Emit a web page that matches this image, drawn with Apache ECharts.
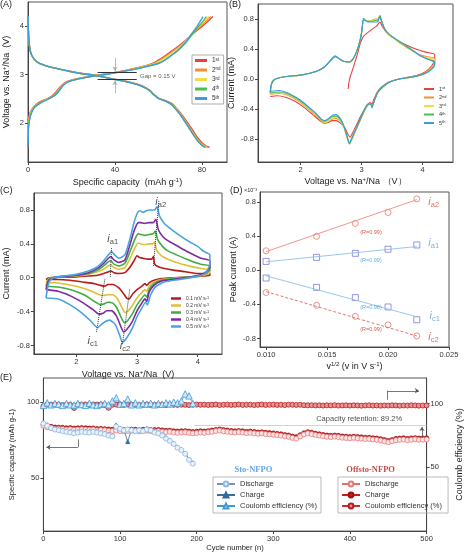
<!DOCTYPE html>
<html><head><meta charset="utf-8">
<script src="https://cdn.jsdelivr.net/npm/echarts@6/dist/echarts.min.js"></script>
<style>html,body{margin:0;padding:0;background:#fff}#c{width:474px;height:553px}</style>
</head><body><div id="c"></div>
<script>
const FONT = '"Liberation Sans", Arial, sans-serif'

// ---- (A) charge / discharge profiles, [capacity, voltage]
const chg1 = [[0,2.06],[1,2.22],[2.5,2.33],[5,2.43],[8,2.49],[11,2.56],[13,2.65],[15,2.76],[17,2.84],[20,2.89],[25,2.94],[30,2.98],[35,3.01],[40,3.05],[45,3.09],[50,3.14],[55,3.2],[58,3.25],[61,3.33],[64,3.42],[67,3.52],[70,3.62],[73,3.73],[76,3.85],[79,3.96],[82,4.07],[85,4.2]]
const chg2 = [[0,1.9],[0.5,2.12],[1.5,2.25],[3,2.35],[5.5,2.43],[8.5,2.49],[11.5,2.56],[13.5,2.66],[15.5,2.77],[17.5,2.84],[20,2.89],[25,2.94],[30,2.97],[35,3.01],[40,3.05],[45,3.09],[50,3.14],[55,3.19],[58,3.24],[61,3.31],[64,3.4],[67,3.5],[70,3.6],[73,3.72],[76,3.86],[79,3.99],[81.5,4.09],[84,4.2]]
const chg3 = [[0,1.7],[0.4,2.05],[1.3,2.22],[3,2.34],[5.5,2.42],[8.5,2.49],[11.8,2.56],[13.8,2.66],[15.8,2.77],[17.8,2.84],[20,2.88],[25,2.93],[30,2.97],[35,3.0],[40,3.04],[45,3.08],[50,3.13],[55,3.19],[59,3.24],[62,3.32],[65,3.41],[68,3.5],[71,3.62],[74,3.77],[77,3.92],[80,4.06],[83,4.2]]
const chg4 = [[0,1.6],[0.3,1.98],[1.2,2.18],[2.8,2.32],[5.8,2.42],[9,2.49],[12,2.56],[14,2.66],[16,2.77],[18,2.84],[20,2.88],[25,2.93],[30,2.97],[35,3.0],[40,3.04],[45,3.08],[50,3.12],[55,3.18],[60,3.24],[63,3.31],[66,3.4],[69,3.5],[72,3.63],[75,3.8],[78,3.97],[80,4.08],[82,4.2]]
const chg5 = [[0,1.5],[0.3,1.92],[1,2.12],[2.2,2.27],[3.8,2.36],[6.5,2.44],[9.5,2.5],[12.3,2.57],[14.3,2.67],[16.3,2.78],[18.3,2.85],[21,2.89],[25,2.93],[30,2.97],[35,3.0],[40,3.04],[45,3.08],[50,3.12],[55,3.17],[60,3.23],[63,3.3],[66,3.4],[69,3.51],[72,3.65],[75,3.83],[78,4.02],[80.5,4.2]]
const dis1 = [[0,4.2],[0.3,3.8],[0.8,3.55],[1.5,3.42],[3,3.31],[5,3.24],[8,3.19],[12,3.14],[16,3.1],[20,3.07],[25,3.03],[30,3.0],[35,2.95],[40,2.91],[45,2.87],[50,2.81],[53,2.76],[56,2.68],[58,2.59],[60,2.52],[63,2.47],[66,2.41],[68,2.32],[70,2.22],[72,2.1],[74,1.97],[76,1.84],[78,1.7],[80,1.6],[82,1.53],[83.5,1.5]]
const dis2 = [[0,4.2],[0.3,3.8],[0.8,3.55],[1.5,3.42],[3,3.31],[5,3.24],[8,3.19],[12,3.14],[16,3.1],[20,3.06],[25,3.02],[30,2.99],[35,2.95],[40,2.9],[45,2.86],[50,2.8],[53,2.75],[56,2.67],[58,2.58],[60,2.51],[63,2.46],[66,2.4],[68,2.31],[70,2.2],[72,2.07],[74,1.94],[76,1.8],[78,1.67],[80,1.57],[82.7,1.5]]
const dis3 = [[0,4.2],[0.3,3.8],[0.8,3.55],[1.5,3.42],[3,3.31],[5,3.24],[8,3.19],[12,3.14],[16,3.1],[20,3.06],[25,3.02],[30,2.99],[35,2.95],[40,2.9],[45,2.86],[50,2.8],[53,2.75],[56,2.67],[58,2.58],[60,2.51],[63,2.46],[66,2.39],[68,2.3],[70,2.19],[72,2.06],[74,1.92],[76,1.78],[78,1.65],[80,1.56],[82.2,1.5]]
const dis4 = [[0,4.2],[0.3,3.8],[0.8,3.55],[1.5,3.42],[3,3.31],[5,3.24],[8,3.19],[12,3.14],[16,3.1],[20,3.06],[25,3.02],[30,2.99],[35,2.95],[40,2.9],[45,2.86],[50,2.8],[53,2.75],[56,2.67],[58,2.58],[60,2.51],[63,2.46],[66,2.39],[68,2.29],[70,2.18],[72,2.05],[74,1.91],[76,1.77],[78,1.64],[80,1.55],[81.7,1.5]]
const dis5 = [[0,4.22],[0.3,3.8],[0.8,3.55],[1.5,3.42],[3,3.31],[5,3.24],[8,3.19],[12,3.14],[16,3.1],[20,3.06],[25,3.02],[30,2.99],[35,2.95],[40,2.9],[45,2.86],[50,2.8],[53,2.75],[56,2.67],[58,2.58],[60,2.51],[63,2.46],[66,2.38],[68,2.28],[70,2.17],[72,2.04],[74,1.9],[76,1.76],[78,1.63],[80,1.54],[81.2,1.5]]
const gapLines = [[[32,3.05],[50,3.05]], [[32,2.9],[50,2.9]]]
const gapArrows = [[[40,3.35],[40,3.08]], [[40,2.62],[40,2.87]]]

// ---- (B) first five CV cycles, [voltage, current mA]
const cv1 = [[2.78,-0.13],[2.79,-0.05],[2.82,0.05],[2.87,0.17],[2.93,0.33],[2.98,0.48],[3.03,0.57],[3.1,0.62],[3.18,0.67],[3.25,0.71],[3.3,0.76],[3.34,0.7],[3.4,0.63],[3.5,0.56],[3.6,0.51],[3.75,0.45],[3.9,0.4],[4.05,0.36],[4.2,0.33],[4.2,0.27],[4.15,0.18],[4.05,0.1],[3.9,0.05],[3.7,0.02],[3.55,-0.01],[3.42,-0.05],[3.32,-0.11],[3.25,-0.18],[3.2,-0.27],[3.17,-0.33],[3.14,-0.31],[3.08,-0.36],[3.0,-0.47],[2.92,-0.6],[2.86,-0.7],[2.81,-0.77],[2.77,-0.72],[2.72,-0.64],[2.65,-0.58],[2.58,-0.55],[2.52,-0.55],[2.46,-0.57],[2.4,-0.59],[2.33,-0.56],[2.2,-0.47],[2.05,-0.37],[1.9,-0.29],[1.75,-0.24],[1.62,-0.22],[1.5,-0.23]]
const cv2 = [[1.5,-0.2],[1.52,-0.08],[1.56,-0.01],[1.65,0.02],[1.8,0.04],[2.0,0.055],[2.15,0.08],[2.3,0.12],[2.4,0.17],[2.47,0.23],[2.53,0.28],[2.57,0.3],[2.62,0.28],[2.7,0.24],[2.8,0.23],[2.86,0.27],[2.92,0.37],[2.97,0.5],[3.0,0.62],[3.03,0.78],[3.06,0.78],[3.1,0.77],[3.16,0.78],[3.22,0.8],[3.27,0.8],[3.3,0.85],[3.33,0.77],[3.38,0.66],[3.45,0.59],[3.55,0.53],[3.65,0.47],[3.8,0.39],[3.95,0.33],[4.08,0.3],[4.2,0.28],[4.2,0.24],[4.15,0.16],[4.05,0.09],[3.9,0.04],[3.75,0.02],[3.6,0.0],[3.45,-0.04],[3.35,-0.1],[3.27,-0.17],[3.22,-0.26],[3.19,-0.33],[3.17,-0.36],[3.15,-0.33],[3.1,-0.35],[3.03,-0.45],[2.96,-0.58],[2.9,-0.69],[2.84,-0.8],[2.8,-0.86],[2.76,-0.77],[2.71,-0.64],[2.65,-0.55],[2.58,-0.52],[2.52,-0.53],[2.46,-0.56],[2.4,-0.58],[2.34,-0.56],[2.25,-0.48],[2.12,-0.39],[2.0,-0.31],[1.9,-0.26],[1.78,-0.21],[1.65,-0.19],[1.5,-0.2]]
const cv3 = [[1.5,-0.19],[1.52,-0.07],[1.56,-0.01],[1.65,0.02],[1.8,0.04],[2.0,0.055],[2.15,0.08],[2.3,0.12],[2.4,0.17],[2.47,0.23],[2.53,0.28],[2.57,0.3],[2.62,0.28],[2.7,0.24],[2.8,0.23],[2.86,0.27],[2.92,0.37],[2.97,0.5],[3.0,0.62],[3.03,0.78],[3.06,0.78],[3.1,0.77],[3.16,0.78],[3.22,0.79],[3.27,0.79],[3.3,0.85],[3.33,0.77],[3.38,0.66],[3.45,0.59],[3.55,0.53],[3.65,0.47],[3.8,0.39],[3.95,0.32],[4.08,0.28],[4.2,0.26],[4.2,0.22],[4.15,0.15],[4.05,0.08],[3.9,0.04],[3.75,0.02],[3.6,0.0],[3.45,-0.04],[3.35,-0.1],[3.27,-0.17],[3.22,-0.26],[3.19,-0.33],[3.17,-0.36],[3.15,-0.33],[3.1,-0.35],[3.03,-0.45],[2.96,-0.58],[2.9,-0.69],[2.84,-0.8],[2.8,-0.86],[2.76,-0.77],[2.71,-0.64],[2.65,-0.54],[2.58,-0.51],[2.52,-0.52],[2.46,-0.55],[2.4,-0.58],[2.34,-0.55],[2.25,-0.47],[2.12,-0.38],[2.0,-0.3],[1.9,-0.25],[1.78,-0.2],[1.65,-0.18],[1.5,-0.19]]
const cv4 = [[1.5,-0.18],[1.52,-0.07],[1.56,-0.01],[1.65,0.02],[1.8,0.04],[2.0,0.055],[2.15,0.08],[2.3,0.12],[2.4,0.17],[2.47,0.23],[2.53,0.28],[2.57,0.3],[2.62,0.28],[2.7,0.24],[2.8,0.23],[2.86,0.27],[2.92,0.37],[2.97,0.5],[3.0,0.62],[3.03,0.79],[3.06,0.78],[3.1,0.77],[3.16,0.77],[3.22,0.78],[3.27,0.79],[3.3,0.84],[3.33,0.77],[3.38,0.67],[3.45,0.6],[3.55,0.54],[3.65,0.48],[3.8,0.4],[3.95,0.32],[4.08,0.27],[4.2,0.24],[4.2,0.21],[4.15,0.14],[4.05,0.08],[3.9,0.04],[3.75,0.02],[3.6,0.0],[3.45,-0.04],[3.35,-0.1],[3.27,-0.17],[3.22,-0.26],[3.19,-0.33],[3.17,-0.37],[3.15,-0.33],[3.1,-0.34],[3.03,-0.44],[2.96,-0.57],[2.9,-0.68],[2.84,-0.79],[2.8,-0.86],[2.76,-0.76],[2.71,-0.63],[2.65,-0.53],[2.58,-0.49],[2.52,-0.5],[2.46,-0.53],[2.4,-0.56],[2.34,-0.54],[2.25,-0.46],[2.12,-0.37],[2.0,-0.29],[1.9,-0.24],[1.78,-0.19],[1.65,-0.17],[1.5,-0.18]]
const cv5 = [[1.5,-0.17],[1.52,-0.06],[1.56,-0.01],[1.65,0.02],[1.8,0.04],[2.0,0.055],[2.15,0.08],[2.3,0.12],[2.4,0.17],[2.47,0.23],[2.53,0.29],[2.57,0.31],[2.62,0.28],[2.7,0.24],[2.8,0.23],[2.86,0.27],[2.92,0.37],[2.97,0.5],[3.0,0.62],[3.03,0.81],[3.06,0.79],[3.1,0.76],[3.16,0.76],[3.22,0.76],[3.27,0.77],[3.3,0.84],[3.33,0.76],[3.38,0.66],[3.45,0.6],[3.55,0.54],[3.65,0.49],[3.8,0.41],[3.95,0.32],[4.08,0.27],[4.2,0.22],[4.2,0.19],[4.15,0.13],[4.05,0.08],[3.9,0.04],[3.75,0.02],[3.6,0.0],[3.45,-0.04],[3.35,-0.1],[3.27,-0.17],[3.22,-0.26],[3.19,-0.33],[3.17,-0.38],[3.15,-0.33],[3.1,-0.33],[3.03,-0.43],[2.96,-0.56],[2.9,-0.67],[2.84,-0.78],[2.8,-0.85],[2.76,-0.75],[2.71,-0.62],[2.65,-0.52],[2.58,-0.47],[2.52,-0.48],[2.46,-0.52],[2.4,-0.55],[2.34,-0.53],[2.25,-0.45],[2.12,-0.36],[2.0,-0.28],[1.9,-0.23],[1.78,-0.18],[1.65,-0.15],[1.5,-0.16]]

// ---- (C) CV at different scan rates
const rateLabels = ['0.1', '0.2', '0.3', '0.4', '0.5']
const sr1 = [[1.5,-0.02],[1.55,0.0],[1.7,0.005],[2.0,0.01],[2.2,0.02],[2.35,0.03],[2.45,0.05],[2.53,0.07],[2.57,0.08],[2.62,0.06],[2.7,0.05],[2.8,0.06],[2.88,0.12],[2.95,0.2],[3.0,0.26],[3.04,0.24],[3.1,0.23],[3.17,0.22],[3.24,0.22],[3.27,0.25],[3.29,0.16],[3.35,0.13],[3.45,0.11],[3.6,0.09],[3.8,0.07],[4.0,0.05],[4.2,0.05],[4.2,0.03],[4.1,0.02],[3.9,0.01],[3.6,0.0],[3.4,-0.01],[3.28,-0.03],[3.2,-0.06],[3.16,-0.09],[3.13,-0.07],[3.08,-0.1],[3.0,-0.14],[2.93,-0.19],[2.87,-0.25],[2.83,-0.24],[2.77,-0.18],[2.7,-0.12],[2.6,-0.08],[2.52,-0.08],[2.47,-0.1],[2.4,-0.09],[2.3,-0.07],[2.1,-0.05],[1.9,-0.03],[1.7,-0.02],[1.5,-0.02]]
const sr2 = [[1.5,-0.06],[1.55,-0.01],[1.7,0.01],[2.0,0.02],[2.2,0.04],[2.35,0.07],[2.45,0.1],[2.53,0.14],[2.57,0.15],[2.62,0.12],[2.7,0.1],[2.8,0.12],[2.88,0.22],[2.95,0.33],[3.02,0.41],[3.06,0.4],[3.12,0.39],[3.2,0.4],[3.26,0.4],[3.29,0.42],[3.32,0.33],[3.4,0.26],[3.5,0.22],[3.65,0.18],[3.85,0.14],[4.05,0.11],[4.2,0.09],[4.2,0.06],[4.1,0.03],[3.9,0.01],[3.6,-0.005],[3.4,-0.02],[3.28,-0.05],[3.2,-0.1],[3.16,-0.16],[3.13,-0.14],[3.07,-0.18],[3.0,-0.24],[2.92,-0.33],[2.84,-0.4],[2.8,-0.41],[2.75,-0.35],[2.68,-0.25],[2.6,-0.2],[2.52,-0.2],[2.45,-0.21],[2.38,-0.2],[2.25,-0.16],[2.05,-0.11],[1.85,-0.08],[1.65,-0.06],[1.5,-0.06]]
const sr3 = [[1.5,-0.1],[1.55,-0.02],[1.7,0.01],[2.0,0.03],[2.2,0.05],[2.35,0.09],[2.45,0.14],[2.53,0.19],[2.57,0.2],[2.62,0.16],[2.7,0.14],[2.8,0.17],[2.88,0.3],[2.95,0.43],[3.02,0.52],[3.06,0.51],[3.12,0.5],[3.2,0.51],[3.27,0.52],[3.3,0.55],[3.34,0.45],[3.42,0.37],[3.5,0.32],[3.65,0.27],[3.85,0.21],[4.05,0.16],[4.2,0.14],[4.2,0.09],[4.1,0.04],[3.9,0.01],[3.6,-0.01],[3.4,-0.03],[3.28,-0.07],[3.2,-0.14],[3.16,-0.23],[3.13,-0.2],[3.07,-0.25],[3.0,-0.32],[2.92,-0.43],[2.84,-0.51],[2.79,-0.53],[2.74,-0.47],[2.67,-0.36],[2.6,-0.3],[2.52,-0.29],[2.45,-0.31],[2.4,-0.32],[2.3,-0.28],[2.15,-0.21],[1.95,-0.15],[1.7,-0.11],[1.5,-0.1]]
const sr4 = [[1.5,-0.14],[1.55,-0.03],[1.7,0.01],[2.0,0.03],[2.2,0.06],[2.35,0.11],[2.45,0.17],[2.53,0.23],[2.57,0.25],[2.62,0.21],[2.7,0.18],[2.8,0.21],[2.88,0.38],[2.95,0.55],[3.02,0.65],[3.06,0.65],[3.12,0.64],[3.2,0.65],[3.27,0.65],[3.31,0.69],[3.35,0.57],[3.42,0.49],[3.5,0.44],[3.65,0.38],[3.85,0.3],[4.05,0.23],[4.2,0.2],[4.2,0.12],[4.1,0.05],[3.9,0.01],[3.6,-0.02],[3.4,-0.04],[3.28,-0.09],[3.2,-0.17],[3.16,-0.28],[3.13,-0.25],[3.07,-0.31],[3.0,-0.39],[2.92,-0.52],[2.83,-0.61],[2.78,-0.64],[2.73,-0.57],[2.66,-0.45],[2.58,-0.39],[2.5,-0.39],[2.44,-0.42],[2.38,-0.43],[2.28,-0.38],[2.12,-0.3],[1.92,-0.22],[1.7,-0.16],[1.5,-0.14]]
const sr5 = [[1.5,-0.24],[1.55,-0.05],[1.62,0.0],[1.8,0.02],[2.0,0.04],[2.2,0.08],[2.35,0.13],[2.45,0.2],[2.53,0.27],[2.58,0.31],[2.63,0.27],[2.7,0.23],[2.8,0.27],[2.88,0.45],[2.95,0.65],[3.01,0.77],[3.05,0.79],[3.1,0.77],[3.15,0.79],[3.22,0.8],[3.29,0.8],[3.33,0.84],[3.37,0.73],[3.45,0.64],[3.55,0.58],[3.7,0.5],[3.85,0.43],[4.0,0.37],[4.1,0.31],[4.2,0.27],[4.2,0.16],[4.12,0.05],[3.95,0.01],[3.7,-0.02],[3.45,-0.05],[3.3,-0.11],[3.22,-0.21],[3.17,-0.32],[3.14,-0.29],[3.07,-0.37],[3.0,-0.46],[2.92,-0.6],[2.82,-0.72],[2.76,-0.76],[2.71,-0.67],[2.64,-0.55],[2.55,-0.5],[2.47,-0.52],[2.4,-0.56],[2.35,-0.59],[2.25,-0.52],[2.1,-0.42],[1.9,-0.32],[1.7,-0.25],[1.5,-0.24]]
const peakLines = [[[2.56,0.01],[2.58,0.35]], [[3.27,0.14],[3.36,0.91]], [[2.47,-0.02],[2.33,-0.65]], [[2.88,-0.14],[2.76,-0.79]]]
const peakTags = [[2.6,0.46,'a1'], [3.39,0.9,'a2'], [2.27,-0.75,'c1'], [2.8,-0.8,'c2']]

// ---- (D) peak current vs v^1/2
const vHalf = [0.01, 0.01414, 0.01732, 0.02, 0.02236]
const ia2 = [0.23, 0.40, 0.55, 0.68, 0.84]
const ia1 = [0.105, 0.153, 0.2, 0.248, 0.298]
const ic1 = [-0.09, -0.2, -0.32, -0.43, -0.58]
const ic2 = [-0.26, -0.41, -0.54, -0.64, -0.77]
const fitA2 = [[0.01,0.22],[0.02236,0.83]]
const fitA1 = [[0.01,0.1],[0.02236,0.28]]
const fitC1 = [[0.01,-0.065],[0.02236,-0.545]]
const fitC2 = [[0.01,-0.25],[0.02236,-0.77]]
const rTexts = [[0.0186,0.44,'(R=0.99)','r'], [0.0186,0.11,'(R=0.99)','b'], [0.0186,-0.44,'(R=0.98)','b'], [0.0186,-0.695,'(R=0.99)','r']]
const dTags = [[0.0233,0.8,'a2','r'], [0.0233,0.32,'a1','b'], [0.0234,-0.54,'c1','b'], [0.0233,-0.78,'c2','r']]

// ---- (E) long cycling
const cycE = [0,5,10,15,20,25,30,35,40,45,50,55,60,65,70,75,80,85,90,95,100,105,110,115,120,125,130,135,140,145,150,155,160,165,170,175,180,185,190,195,200,205,210,215,220,225,230,235,240,245,250,255,260,265,270,275,280,285,290,295,300,305,310,315,320,325,330,335,340,345,350,355,360,365,370,375,380,385,390,395,400,405,410,415,420,425,430,435,440,445,450,455,460,465,470,475,480,485,490,495,500]
const offDis = [84.5,83.5,83,82.5,82.5,82.3,82,82.2,81.8,82, 82.2,82,81.8,82,81.5,81.7,81.5,81.2,81,81.3, 81,80.8,81,81.2,81,80.8,81,81.2,81,80.8, 81,80.6,80.3,80.5,80,79.8,80,80.2,79.8,79.5, 79.7,80,79.8,80.2,80.5,81,81.3,80.8,80.5,80.2, 80,80.3,80,79.6,79.8,79.5,79.2,79.4,79,78.8, 78.6,78.3,78,77.5,77.2,76.5,76,77.5,78.8,79.5, 79,78.4,78,77.6,77.2,77,77.3,77,76.6,76.4, 76.2,76.5,76.2,76,75.7,75.8,75.4,75.2,74.8,74.2, 73.6,74.3,75,75.2,75.4,75,75.3,75.6,75.2,75.3,75.4]
const offChg = [85.3,84.4,84,83.5,83.4,83.3,83,83.1,82.8,83, 83.1,83,82.8,82.9,82.5,82.6,82.4,82.2,82,82.2, 82,81.8,82,82.1,82,81.7,82,82.1,81.9,81.8, 81.9,81.6,81.3,81.4,81,80.8,81,81.1,80.8,80.5, 80.7,81,80.8,81.1,81.5,81.9,82.2,81.8,81.5,81.2, 81,81.2,81,80.6,80.8,80.5,80.2,80.3,80,79.8, 79.6,79.3,79,78.5,78.2,77.5,77.1,78.4,79.7,80.4, 80,79.4,79,78.6,78.2,78,78.2,78,77.6,77.4, 77.2,77.4,77.2,77,76.7,76.7,76.4,76.2,75.8,75.2, 74.6,75.2,76,76.2,76.4,76,76.3,76.5,76.2,76.3,76.4]
const offCE = [98,99.2,99,99.3,99,98.8,99.1,99,96.5,99.2, 99,99.3,98.9,99.1,99.2,99,98.8,96.6,99,99.2, 99.1,98.9,99.2,99,99.1,98.8,99,99.2,99,98.9, 99.1,99,98.8,99.2,99,98.9,99.1,99,98.8,99, 99.2,99,99.1,98.9,99,99.2,98.8,99,99.1,98.9, 99,99.2,98.9,99,99.1,98.8,99,99.2,98.9,99, 99.1,98.9,99,98.8,99.1,99,98.9,99,98.7,98.6, 98.7,98.5,98.6,98.4,98.6,98.5,98.7,98.4,98.5,98.6, 98.4,98.6,98.5,98.3,98.5,98.6,98.4,98.5,98.3,98.5, 98.4,98.6,98.5,98.3,98.5,98.4,98.6,98.5,98.3,98.4,98.5]
const cycS = [0,5,10,15,20,25,30,35,40,45,50,55,60,65,70,75,80,85,90,95,100,105,110,115,120,125,130,135,140,145,150,155,160,165,170,175,180,185,190,195]
const stoDis = [86,84.5,83,82,81.5,81,80.5,80,79.5,80, 80.5,80.2,80,80.5,80,79.5,79,78,77.5,84, 82.5,81.5,82,81.5,81,81.5,81,82,81.5,80, 79.5,78,76,74.5,72.5,70,68.5,66,62,59.5]
const stoChg = [86.8,85.2,83.6,82.5,82,81.6,81,80.6,80.2,80.6, 81,80.8,80.6,81,80.6,80,79.6,78.6,78,85, 83,82,74,82,81.6,82,81.6,82.6,82,80.6, 80,78.6,76.6,75,73,70.5,69,66.5,62.5,60]
const stoCE = [98.5,100.5,99,100,99.5,98.5,100,99,98.8,100, 99.2,98.6,100.2,99,98.5,99.5,100,99,102,104.5, 99.5,100,103.5,99,100.5,99,100,99.5,100.2,99, 100,99.5,100.5,99.8,101,100.5,102,107.5,106,100]

const COLS5 = ['#e8413b', '#f19135', '#f0dc4a', '#4dbf4d', '#3f9be0']
const RATECOLS = ['#b71c1c', '#dcc03a', '#43ad43', '#7b2c9e', '#4aa3e0']

const RICH = {
  i: { fontStyle: 'italic', fontSize: 11, fontFamily: FONT, lineHeight: 14 },
  sub: { fontSize: 7.5, fontFamily: FONT, verticalAlign: 'bottom', lineHeight: 9 },
  sup: { fontSize: 5.5, fontFamily: FONT, verticalAlign: 'top', lineHeight: 6 },
}
const NAME_RICH = { sup: { fontSize: 6, fontFamily: FONT, verticalAlign: 'top', lineHeight: 7 } }

function pairs(xs, ys) { return xs.map((x, i) => [x, ys[i]]) }

function xAx(g, min, max, extra) {
  return Object.assign({
    type: 'value', gridIndex: g, min, max,
    axisLine: { onZero: false, lineStyle: { color: '#444', width: 1 } },
    axisTick: { length: 3, lineStyle: { color: '#444' } },
    axisLabel: { fontSize: 7.5, color: '#333', fontFamily: FONT, margin: 4 },
    splitLine: { show: false },
    nameLocation: 'middle',
    nameTextStyle: { fontSize: 9, color: '#222', fontFamily: FONT, lineHeight: 12, rich: NAME_RICH },
  }, extra)
}
function yAx(g, min, max, extra) {
  const a = xAx(g, min, max, extra)
  a.nameRotate = 90
  return a
}
function custom(a, vals, fmt) {
  a.axisLabel = Object.assign({}, a.axisLabel, { customValues: vals })
  if (fmt) a.axisLabel.formatter = fmt
  a.axisTick = Object.assign({}, a.axisTick, { customValues: vals })
  return a
}
function line(g, name, data, color, width, extra) {
  return Object.assign({
    type: 'line', name, xAxisIndex: g, yAxisIndex: g, data, color,
    symbol: 'none', showSymbol: false, smooth: 0.25,
    lineStyle: { color, width }, silent: true,
  }, extra)
}
function txt(g, yi, pts, color, size, align, more) {
  return {
    type: 'scatter', xAxisIndex: g, yAxisIndex: yi, silent: true, symbolSize: 1, z: 20,
    itemStyle: { color: 'rgba(0,0,0,0)' },
    label: Object.assign({ show: true, position: 'inside', formatter: p => p.name, color, fontSize: size,
             fontFamily: FONT, align: align || 'left', verticalAlign: 'middle', rich: RICH }, more),
    data: pts.map(p => ({ value: [p[0], p[1]], name: p[2] })),
  }
}
function arrowSeg(a, b) {
  return [{ coord: a, symbol: 'none' }, { coord: b, symbol: 'arrow' }]
}

const f1 = v => v.toFixed(1)
const series = []

// A
;[chg1, chg2, chg3, chg4, chg5].forEach((d, i) => series.push(line(0, 'A' + (i + 1), d, COLS5[i], 1.3)))
;[dis1, dis2, dis3, dis4, dis5].forEach((d, i) => series.push(line(0, 'A' + (i + 1), d, COLS5[i], 1.3)))
series.push({
  type: 'line', xAxisIndex: 0, yAxisIndex: 0, data: [], silent: true,
  markLine: {
    silent: true, symbolSize: 4, animation: false, label: { show: false },
    lineStyle: { color: '#333', width: 1, type: 'solid' },
    data: gapLines.map(s => [{ coord: s[0], symbol: 'none' }, { coord: s[1], symbol: 'none' }])
      .concat(gapArrows.map(s => [{ coord: s[0], symbol: 'none', lineStyle: { color: '#aaa', width: 0.8 } }, { coord: s[1], symbol: 'arrow' }])),
  },
})
series.push(txt(0, 0, [[51.5, 2.975, 'Gap = 0.15 V']], '#333', 6))

// B
;[cv1, cv2, cv3, cv4, cv5].forEach((d, i) => series.push(line(1, 'B' + (i + 1), d, COLS5[i], 1.1, { smooth: 0.2 })))

// C
;[sr1, sr2, sr3, sr4, sr5].forEach((d, i) => series.push(line(2, 'C' + (i + 1), d, RATECOLS[i], 1.6, { smooth: 0.2 })))
peakLines.forEach(s => series.push(line(2, 'pk', s, '#333', 1, { smooth: false, lineStyle: { color: '#333', width: 1, type: 'dotted' } })))
series.push(txt(2, 2, peakTags.map(t => [t[0], t[1], '{i|i}{sub|' + t[2] + '}']), '#222', 10, 'center'))

// D
series.push(line(3, 'fa2', fitA2, '#ec8a7e', 0.9, { smooth: false }))
series.push(line(3, 'fa1', fitA1, '#8ec0ea', 0.9, { smooth: false }))
series.push(line(3, 'fc1', fitC1, '#8ec0ea', 0.9, { smooth: false }))
series.push(line(3, 'fc2', fitC2, '#e0665a', 0.9, { smooth: false, lineStyle: { color: '#e0665a', width: 0.9, type: [3, 2] } }))
const ptStyle = (sym, c) => ({ type: 'scatter', xAxisIndex: 3, yAxisIndex: 3, symbol: sym, symbolSize: 6, silent: true,
  itemStyle: { color: '#fff', borderColor: c, borderWidth: 0.9 } })
series.push(Object.assign(ptStyle('circle', '#e06a5a'), { data: pairs(vHalf, ia2) }))
series.push(Object.assign(ptStyle('rect', '#6c6cd6'), { data: pairs(vHalf, ia1) }))
series.push(Object.assign(ptStyle('rect', '#6c6cd6'), { data: pairs(vHalf, ic1) }))
series.push(Object.assign(ptStyle('circle', '#e06a5a'), { data: pairs(vHalf, ic2) }))
series.push(txt(3, 3, rTexts.filter(t => t[3] === 'r'), '#c8321e', 5.5, 'center'))
series.push(txt(3, 3, rTexts.filter(t => t[3] === 'b'), '#3a9ad0', 5.5, 'center'))
series.push(txt(3, 3, dTags.filter(t => t[3] === 'r').map(t => [t[0], t[1], '{i|i}{sub|' + t[2] + '}']), '#d05040', 11))
series.push(txt(3, 3, dTags.filter(t => t[3] === 'b').map(t => [t[0], t[1], '{i|i}{sub|' + t[2] + '}']), '#5b9bd5', 11))

// E
const eLine = (name, yi, xs, ys, sym, size, fill, border, lc) => ({
  type: 'line', name, xAxisIndex: 4, yAxisIndex: yi, data: pairs(xs, ys), silent: true,
  symbol: sym, symbolSize: size, showSymbol: true, showAllSymbol: true,
  itemStyle: { color: fill, borderColor: border, borderWidth: 0.8 },
  lineStyle: { color: lc, width: 0.8 },
})
const offD = eLine('Discharge ', 4, cycE, offDis, 'circle', 5, '#fbe4e4', '#e37a7a', '#e07070')
offD.markLine = {
  silent: true, symbolSize: 4, animation: false, label: { show: false },
  lineStyle: { color: '#555', width: 0.8, type: 'solid' },
  data: [
    [{ coord: [45, 75.5], symbol: 'none' }, { coord: [45, 70.3], symbol: 'none' }],
    arrowSeg([45, 70.3], [4, 70.3]),
    [{ coord: [197, 84.7], symbol: 'none', lineStyle: { color: '#c8c8c8', width: 0.8 } }, { coord: [500, 84.7], symbol: 'none' }],
    arrowSeg([494, 76.5], [494, 83.6]),
  ],
}
const offCEs = eLine('Coulomb efficiency (%) ', 5, cycE, offCE, 'circle', 5, '#e99494', '#b71c1c', '#c43030')
offCEs.markLine = {
  silent: true, symbolSize: 4, animation: false, label: { show: false },
  lineStyle: { color: '#555', width: 0.8, type: 'solid' },
  data: [
    [{ coord: [449, 103], symbol: 'none' }, { coord: [449, 110], symbol: 'none' }],
    arrowSeg([449, 110], [490, 110]),
  ],
}
series.push(offCEs)
series.push(eLine('Charge ', 4, cycE, offChg, 'circle', 4.5, '#c41e1e', '#a01010', '#c41e1e'))
series.push(offD)
series.push(eLine('Charge', 4, cycS, stoChg, 'triangle', 4, '#2f68a6', '#2f68a6', '#3a6e9e'))
series.push(eLine('Discharge', 4, cycS, stoDis, 'circle', 5, '#e8f2fb', '#8fb8e0', '#7895b4'))
series.push(eLine('Coulomb efficiency (%)', 5, cycS, stoCE, 'triangle', 6.5, '#cfe6f7', '#3c9ad8', '#3c9ad8'))
series.push(txt(4, 4, [[412, 89.2, 'Capacity retention: 89.2%']], '#222', 7.5, 'center'))
const serif = { fontWeight: 'bold', fontFamily: '"Liberation Serif", serif' }
series.push(txt(4, 4, [[274, 55.5, 'Sto-NFPO']], '#3a8fd6', 8.5, 'center', serif))
series.push(txt(4, 4, [[427, 55.5, 'Offsto-NFPO']], '#b01c1c', 8.5, 'center', serif))

const ordSup = { A1: '1{s|st}', A2: '2{s|nd}', A3: '3{s|rd}', A4: '4{s|th}', A5: '5{s|th}' }
const legBase = { orient: 'vertical', selectedMode: false, padding: [2, 3, 2, 3] }

const option = {
  animation: false,
  backgroundColor: '#fff',
  textStyle: { fontFamily: FONT },
  grid: [
    { left: 28, top: 2, width: 199, height: 160, show: true, borderColor: '#555', borderWidth: 1 },
    { left: 258, top: 4, width: 195, height: 158, show: true, borderColor: '#555', borderWidth: 1 },
    { left: 28, top: 193, width: 194, height: 161, show: true, borderColor: '#555', borderWidth: 1 },
    { left: 260, top: 192, width: 189, height: 155, show: true, borderColor: '#555', borderWidth: 1 },
    { left: 27, top: 378, width: 421, height: 155, show: true, borderColor: '#555', borderWidth: 1 },
  ],
  xAxis: [
    custom(xAx(0, 0, 91.5, { name: 'Specific capacity  (mAh g{sup|-1})', nameGap: 15 }), [0, 40, 80]),
    custom(xAx(1, 1.3, 4.5, { name: 'Voltage vs. Na{sup|+}/Na （V）', nameGap: 14 }), [2, 3, 4]),
    custom(xAx(2, 1.3, 4.4, { name: 'Voltage vs. Na{sup|+}/Na  (V)', nameGap: 15 }), [2, 3, 4]),
    custom(xAx(3, 0.0095, 0.025, { name: 'v{sup|1/2} (v in V s{sup|-1})', nameGap: 14 }), [0.01, 0.015, 0.02, 0.025], v => v.toFixed(3)),
    xAx(4, 0, 500, { interval: 100, name: 'Cycle number (n)', nameGap: 11, nameTextStyle: { fontSize: 7.5, color: '#222', fontFamily: FONT } }),
  ],
  yAxis: [
    custom(yAx(0, 1.2, 4.5, { name: 'Voltage vs. Na{sup|+}/Na  (V)', nameGap: 15 }), [2, 3, 4]),
    custom(yAx(1, -1.1, 1.0, { name: 'Current (mA)', nameGap: 18 }), [-0.8, -0.4, 0, 0.4, 0.8], f1),
    custom(yAx(2, -0.9, 1.0, { name: 'Current (mA)', nameGap: 19 }), [-0.8, -0.4, 0, 0.4, 0.8], f1),
    custom(yAx(3, -0.9, 0.92, { name: 'Peak current (A)', nameGap: 19 }), [-0.8, -0.4, 0, 0.4, 0.8], f1),
    custom(yAx(4, 15, 116, { name: 'Specific capacity (mAh g-1)', nameGap: 18, nameTextStyle: { fontSize: 7.5, color: '#222', fontFamily: FONT } }), [50, 100]),
    custom(yAx(4, 0, 120, { position: 'right', name: 'Coulomb efficiency (%)', nameGap: 18 }), [50, 100]),
  ],
  legend: [
    Object.assign({}, legBase, {
      data: ['A1', 'A2', 'A3', 'A4', 'A5'], left: 192, top: 55, icon: 'rect', itemWidth: 12, itemHeight: 3, itemGap: 2.5,
      borderColor: '#999', borderWidth: 0.8, formatter: n => ordSup[n],
      textStyle: { fontSize: 6.5, color: '#333', rich: { s: { fontSize: 4.5, verticalAlign: 'top', lineHeight: 5 } } },
    }),
    Object.assign({}, legBase, {
      data: ['B1', 'B2', 'B3', 'B4', 'B5'], left: 421, top: 84, icon: 'rect', itemWidth: 10, itemHeight: 2, itemGap: 2.5,
      formatter: n => ordSup['A' + n.slice(1)],
      textStyle: { fontSize: 5.5, color: '#333', rich: { s: { fontSize: 4, verticalAlign: 'top', lineHeight: 4 } } },
    }),
    Object.assign({}, legBase, {
      data: ['C1', 'C2', 'C3', 'C4', 'C5'], left: 168, top: 294, icon: 'rect', itemWidth: 10, itemHeight: 2.5, itemGap: 2,
      formatter: n => rateLabels[+n.slice(1) - 1] + ' mV s{s|-1}',
      textStyle: { fontSize: 5, color: '#333', rich: { s: { fontSize: 3.8, verticalAlign: 'top', lineHeight: 4 } } },
    }),
    Object.assign({}, legBase, {
      data: ['Discharge', 'Charge', 'Coulomb efficiency (%)'], left: 213, top: 477, itemWidth: 18, itemHeight: 6, itemGap: 3,
      borderColor: '#aaa', borderWidth: 0.8, padding: [3, 4, 3, 3], textStyle: { fontSize: 7.5, color: '#333' },
    }),
    Object.assign({}, legBase, {
      data: ['Discharge ', 'Charge ', 'Coulomb efficiency (%) '], left: 338, top: 477, itemWidth: 18, itemHeight: 6, itemGap: 3,
      borderColor: '#aaa', borderWidth: 0.8, padding: [3, 4, 3, 3], textStyle: { fontSize: 7.5, color: '#333' },
    }),
  ],
  graphic: [
    { type: 'text', left: 0, top: 0, style: { text: '(A)', fill: '#222', font: '9px ' + FONT } },
    { type: 'text', left: 229, top: 0, style: { text: '(B)', fill: '#222', font: '9px ' + FONT } },
    { type: 'text', left: 0, top: 186, style: { text: '(C)', fill: '#222', font: '9px ' + FONT } },
    { type: 'text', left: 230, top: 186, style: { text: '(D)', fill: '#222', font: '9px ' + FONT } },
    { type: 'text', left: 244, top: 187, style: { text: '×10⁻³', fill: '#333', font: '5.5px ' + FONT } },
    { type: 'text', left: 0, top: 373, style: { text: '(E)', fill: '#222', font: '9px ' + FONT } },
  ],
  series,
}

const chart = echarts.init(document.getElementById('c'), null, { renderer: 'canvas' })
chart.setOption(option)
</script></body></html>
